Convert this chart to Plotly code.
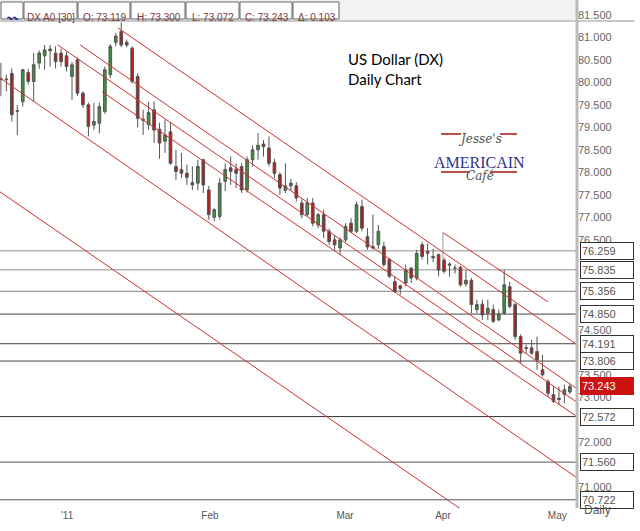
import plotly.graph_objects as go

# daily OHLC, Dec 2010 - May 2011
opens = [80.06, 80.06, 80.20, 79.37, 79.57, 80.22, 80.02, 80.43, 80.59, 80.70,
         80.65, 80.65, 80.59, 80.13, 80.50, 79.76, 79.50, 79.05, 79.09, 79.35,
         80.17, 80.89, 81.13, 80.89, 80.76, 80.13, 79.18, 79.06, 79.39, 78.96,
         78.69, 78.90, 78.13, 78.06, 77.98, 77.77, 77.76, 78.28, 77.61, 77.00,
         77.02, 77.80, 78.10, 78.07, 78.13, 77.61, 78.28, 78.50, 78.63, 78.54,
         78.22, 77.95, 77.60, 77.70, 77.70, 77.32, 77.06, 77.32, 76.83, 77.06,
         76.69, 76.50, 76.32, 76.50, 76.87, 76.69, 77.24, 76.57, 76.35, 76.39,
         76.35, 76.06, 75.57, 75.48, 75.54, 75.87, 75.65, 76.39, 76.24, 76.13,
         76.17, 76.05, 75.96, 75.87, 75.89, 75.52, 75.60, 74.95, 75.07, 74.87,
         74.95, 74.72, 74.87, 75.46, 75.06, 74.35, 74.10, 74.10, 74.02, 73.61,
         73.35, 73.06, 72.98, 73.06, 73.119]
highs = [80.43, 80.17, 80.31, 79.50, 80.30, 80.30, 80.65, 80.71, 80.83, 80.83,
         80.80, 80.75, 80.68, 80.45, 80.55, 79.80, 79.55, 79.54, 79.55, 80.35,
         80.85, 81.10, 81.33, 80.95, 80.80, 80.20, 79.39, 79.57, 79.57, 79.10,
         79.17, 79.10, 78.50, 78.43, 78.17, 78.13, 78.28, 78.30, 77.70, 77.20,
         77.87, 78.20, 78.35, 78.20, 78.20, 78.35, 78.60, 78.87, 78.72, 78.80,
         78.30, 78.00, 78.20, 77.85, 77.78, 77.40, 77.43, 77.43, 77.10, 77.17,
         76.75, 76.61, 76.55, 76.87, 76.98, 77.35, 77.39, 76.76, 77.06, 76.83,
         76.46, 76.10, 75.68, 75.50, 75.95, 75.90, 76.28, 76.46, 76.42, 76.30,
         76.20, 76.10, 76.00, 75.95, 75.92, 75.83, 75.65, 75.17, 75.17, 75.17,
         75.06, 74.95, 75.83, 75.57, 75.10, 74.40, 74.17, 74.28, 74.35, 73.94,
         73.40, 73.24, 73.24, 73.28, 73.300]
lows = [79.69, 79.80, 79.13, 78.83, 79.46, 79.95, 79.57, 80.30, 80.28, 80.35,
        80.31, 80.35, 80.24, 79.61, 79.70, 79.43, 78.80, 78.94, 78.87, 79.30,
        80.10, 80.80, 80.78, 80.78, 79.97, 79.00, 78.83, 78.95, 78.65, 78.30,
        78.43, 78.17, 77.83, 77.87, 77.72, 77.61, 77.60, 77.54, 76.95, 76.91,
        76.95, 77.58, 77.72, 77.65, 77.54, 77.55, 78.13, 78.28, 78.35, 78.13,
        77.87, 77.50, 77.54, 77.60, 77.35, 76.98, 77.02, 76.80, 76.76, 76.54,
        76.39, 76.28, 76.17, 76.45, 76.65, 76.65, 76.69, 76.28, 76.28, 76.30,
        75.90, 75.65, 75.32, 75.28, 75.46, 75.54, 75.60, 76.06, 75.95, 76.00,
        75.69, 75.75, 75.68, 75.75, 75.46, 75.46, 74.87, 74.87, 74.72, 74.72,
        74.65, 74.69, 74.83, 74.98, 74.28, 73.76, 73.98, 73.95, 73.61, 73.46,
        73.02, 72.87, 72.83, 72.87, 73.072]
closes = [80.08, 80.07, 79.28, 79.36, 80.28, 80.02, 80.39, 80.65, 80.72, 80.74,
          80.46, 80.46, 80.35, 80.39, 79.76, 79.50, 79.02, 79.13, 79.46, 80.28,
          80.80, 81.03, 80.83, 80.83, 80.02, 79.20, 79.16, 79.33, 78.94, 78.65,
          78.83, 78.20, 78.02, 77.98, 77.89, 77.72, 78.13, 77.72, 77.06, 77.17,
          77.76, 78.06, 78.02, 77.98, 77.61, 78.28, 78.50, 78.60, 78.57, 78.20,
          77.98, 77.65, 77.70, 77.76, 77.43, 77.06, 77.32, 76.87, 77.06, 76.69,
          76.46, 76.39, 76.50, 76.80, 76.69, 77.28, 76.76, 76.34, 76.32, 76.69,
          75.95, 75.69, 75.35, 75.42, 75.83, 75.65, 76.20, 76.13, 76.20, 76.10,
          75.83, 75.80, 75.94, 75.87, 75.50, 75.60, 75.06, 75.06, 74.83, 74.98,
          74.69, 74.85, 75.50, 75.02, 74.35, 73.98, 74.09, 73.98, 73.83, 73.50,
          73.09, 72.91, 72.95, 73.17, 73.243]

month_pos = [12.1, 38.2, 62.9, 80.8, 101.7]
month_labels = ["'11", "Feb", "Mar", "Apr", "May"]

# price ticks left visible beside the level boxes
price_ticks = [81.5, 81.0, 80.5, 80.0, 79.5, 79.0, 78.5, 78.0, 77.5, 77.0, 76.5,
               74.5, 73.5, 73.0, 72.0, 71.0]

# horizontal levels drawn on the chart
levels = [76.259, 75.835, 75.356, 74.850, 74.191, 73.806, 72.572, 71.560, 70.722]
level_colors = ["#b4b4b4", "#b4b4b4", "#808080", "#444444", "#444444",
                "#444444", "#333333", "#555555", "#555555"]
last_price = 73.243

# parallel trend channel lines: (start idx, start price, end idx, end price)
channel_lines = [
    (21.4, 81.21, 105.3, 74.17),
    (10.4, 80.83, 105.3, 72.89),
    (14.5, 80.83, 105.3, 73.19),
    (18.5, 79.79, 105.3, 72.57),
    (-0.2, 80.10, 105.3, 71.21),
    (-0.2, 77.57, 105.3, 68.74),
    (80.8, 76.66, 100.0, 75.12),
]

header_items = ["DX A0 [30]", "O: 73.119", "H: 73.300", "L: 73.072", "C: 73.243", "Δ: 0.103"]
header_edges = [24, 78, 131, 186, 240, 293, 340]

PW, PH = 577, 508
def px(x):
    return x / PW
def py(y):
    return 1 - y / PH

fig = go.Figure()
fig.add_trace(go.Candlestick(
    x=list(range(len(closes))), open=opens, high=highs, low=lows, close=closes,
    increasing=dict(fillcolor="#3f8f3f", line=dict(color="#555555", width=1)),
    decreasing=dict(fillcolor="#b01e1e", line=dict(color="#555555", width=1)),
    whiskerwidth=0, showlegend=False, hoverinfo="skip",
))

shapes = []
for lv, c in zip(levels, level_colors):
    shapes.append(dict(type="line", xref="paper", yref="y", x0=0, x1=1, y0=lv, y1=lv,
                       line=dict(color=c, width=1.5 if c == "#b4b4b4" else 1), layer="below"))
for x0, y0, x1, y1 in channel_lines:
    shapes.append(dict(type="line", xref="x", yref="y", x0=x0, y0=y0, x1=x1, y1=y1,
                       line=dict(color="#d03030", width=1)))
shapes.append(dict(type="line", xref="x", yref="y", x0=80.8, x1=80.8, y0=76.66, y1=76.06,
                   line=dict(color="#999999", width=1)))
# header strip
shapes.append(dict(type="rect", xref="paper", yref="paper", x0=0, x1=1, y0=py(21), y1=1,
                   fillcolor="#f2f2f2", line=dict(width=0), layer="above"))
shapes.append(dict(type="line", xref="paper", yref="paper", x0=0, x1=1.1, y0=py(21), y1=py(21),
                   line=dict(color="#c8c8c8", width=2), layer="above"))
shapes.append(dict(type="rect", xref="paper", yref="paper", x0=px(1), x1=px(23), y0=py(19), y1=py(2),
                   fillcolor="white", line=dict(color="#666", width=1), layer="above"))
for a, b in zip(header_edges[:-1], header_edges[1:]):
    shapes.append(dict(type="rect", xref="paper", yref="paper", x0=px(a), x1=px(b - 1),
                       y0=py(19), y1=py(2), fillcolor="white", line=dict(color="#666", width=1),
                       layer="above"))
# logo stripes
for a, b, y in [(441, 461, 134), (500, 517, 134), (441, 470, 172), (490, 517, 172)]:
    shapes.append(dict(type="line", xref="paper", yref="paper", x0=px(a), x1=px(b),
                       y0=py(y), y1=py(y), line=dict(color="#c05050", width=2)))
# right axis separator
shapes.append(dict(type="line", xref="paper", yref="paper", x0=1, x1=1, y0=0, y1=1,
                   line=dict(color="#bbbbbb", width=3)))

fig.update_layout(shapes=shapes)

ann = []
for t, a, b in zip(header_items, header_edges[:-1], header_edges[1:]):
    ann.append(dict(text=t, xref="paper", yref="paper", x=px((a + b) / 2), y=py(10.5),
                    xanchor="center", showarrow=False, font=dict(size=10, color="#7b3b3b")))
ann.append(dict(text="〰", xref="paper", yref="paper", x=px(12), y=py(10.5), xanchor="center",
                showarrow=False, font=dict(size=11, color="#1a2a8a")))
for lv in levels:
    ann.append(dict(text=f"{lv:.3f}", xref="paper", yref="y", x=1.006, y=lv, xanchor="left",
                    showarrow=False, bgcolor="white", bordercolor="#333", borderwidth=1,
                    width=50, height=14, borderpad=1, align="left",
                    font=dict(size=11, color="#555")))
ann.append(dict(text=f"{last_price:.3f}", xref="paper", yref="y", x=1.006, y=last_price,
                xanchor="left", showarrow=False, bgcolor="#cc1111", bordercolor="#cc1111",
                borderwidth=1, width=50, height=14, borderpad=1, align="left",
                font=dict(size=11, color="white")))
ann.append(dict(text="US Dollar (DX)<br>Daily Chart", xref="paper", yref="paper",
                x=px(346), y=py(48), xanchor="left", yanchor="top", align="left", showarrow=False,
                font=dict(family="Lato", size=15, color="black")))
ann.append(dict(text="<i>Jesse's</i>", xref="paper", yref="paper", x=px(480), y=py(130),
                xanchor="center", showarrow=False,
                font=dict(family="DejaVu Serif", size=12, color="#555")))
ann.append(dict(text="AMERICAIN", xref="paper", yref="paper", x=px(479), y=py(152),
                xanchor="center", showarrow=False,
                font=dict(family="Liberation Sans Narrow", size=16, color="#33338a")))
ann.append(dict(text="<i>Café</i>", xref="paper", yref="paper", x=px(480), y=py(176),
                xanchor="center", showarrow=False,
                font=dict(family="DejaVu Serif", size=12, color="#555")))
ann.append(dict(text="Daily", xref="paper", yref="paper", x=px(582), y=py(519), xanchor="left",
                showarrow=False, font=dict(size=12, color="#555")))

fig.update_layout(
    annotations=ann,
    width=640, height=531,
    margin=dict(l=0, r=63, t=0, b=23, autoexpand=False),
    paper_bgcolor="white", plot_bgcolor="white",
    font=dict(family="Liberation Sans", size=11, color="#555"),
    xaxis=dict(range=[-0.16, 105.3], rangeslider=dict(visible=False), showgrid=False,
               tickvals=month_pos, ticktext=month_labels, ticks="", zeroline=False,
               tickfont=dict(size=10, color="#555"), fixedrange=True, automargin=False),
    yaxis=dict(side="right", range=[70.54, 81.83], tickvals=price_ticks, tickformat=".3f",
               showgrid=False, ticks="", zeroline=False, automargin=False,
               tickfont=dict(size=11, color="#666")),
)
fig.write_html("out.html", config=dict(displayModeBar=False),
               post_script="document.body.style.margin='0';")
